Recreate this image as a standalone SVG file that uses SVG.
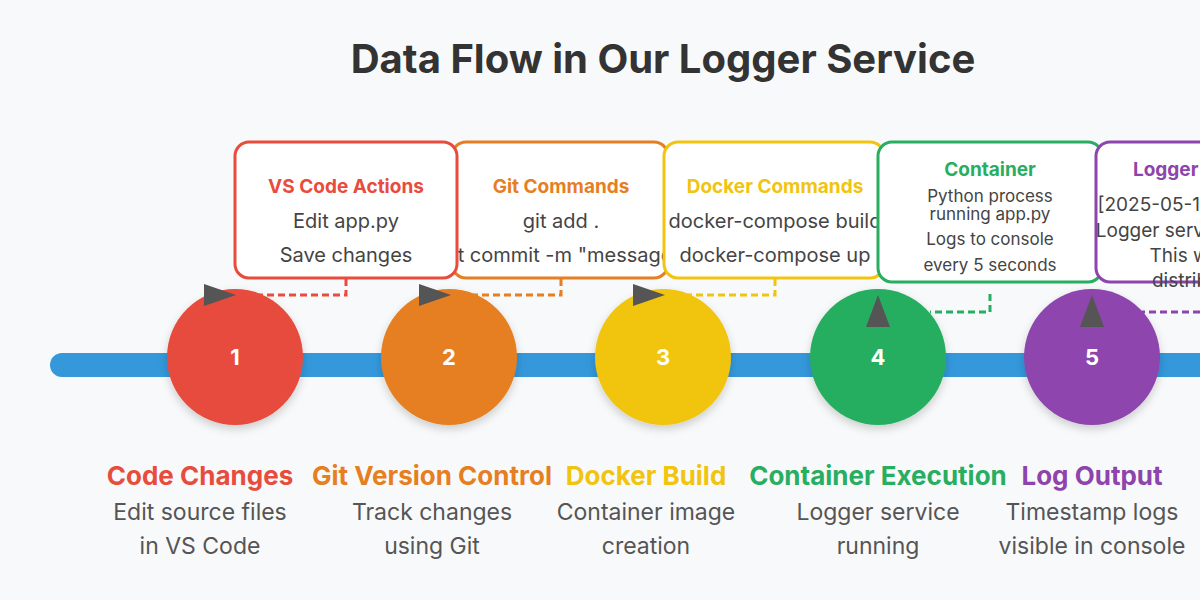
<svg xmlns="http://www.w3.org/2000/svg" width="1200" height="600" viewBox="0 0 1200 600">
<defs>
<filter id="sh" x="-20%" y="-20%" width="140%" height="150%"><feDropShadow dx="0" dy="4" stdDeviation="4" flood-opacity="0.18"/></filter>
</defs>
<style>
text{font-family:Inter,"Noto Sans","Liberation Sans",sans-serif;text-anchor:middle}
.box{fill:#fff;stroke-width:3}
.bt{font-size:19px;font-weight:bold}
.bl{font-size:20px;fill:#444}
.sl{font-size:17px;fill:#444}
.pl{font-size:19px;fill:#444}
.num{font-size:22px;font-weight:bold;fill:#fff}
.lab{font-size:26px;font-weight:bold}
.desc{font-size:23px;fill:#555}
.dash{fill:none;stroke-width:3;stroke-dasharray:7,4}
.arr{fill:#555}
</style>
<rect width="1200" height="600" fill="#f8f9fa"/>
<text x="663" y="73" style="font-size:40px;font-weight:bold;fill:#333">Data Flow in Our Logger Service</text>
<rect x="50" y="353" width="1170" height="24" rx="12" fill="#3498db"/>
<g id="box2"><rect class="box" stroke="#e67e22" x="452" y="142" width="216" height="136" rx="14"/>
<text class="bt" x="561" y="193" fill="#e67e22">Git Commands</text><text class="bl" x="561" y="228">git add .</text><text class="bl" x="561" y="262">git commit -m "message"</text></g>
<g id="box1"><rect class="box" stroke="#e74c3c" x="235" y="142" width="222" height="136" rx="14"/>
<text class="bt" x="346" y="193" fill="#e74c3c">VS Code Actions</text><text class="bl" x="346" y="228">Edit app.py</text><text class="bl" x="346" y="262">Save changes</text></g>
<g id="box3"><rect class="box" stroke="#f1c40f" x="664" y="142" width="220" height="136" rx="14"/>
<text class="bt" x="775" y="193" fill="#f1c40f">Docker Commands</text><text class="bl" x="775" y="228">docker-compose build</text><text class="bl" x="775" y="262">docker-compose up</text></g>
<g id="box4"><rect class="box" stroke="#27ae60" x="878" y="142" width="224" height="140" rx="14"/>
<text class="bt" x="990" y="176" fill="#27ae60">Container</text><text class="sl" x="990" y="202">Python process</text><text class="sl" x="990" y="220">running app.py</text><text class="sl" x="990" y="245">Logs to console</text><text class="sl" x="990" y="271">every 5 seconds</text></g>
<g id="box5"><rect class="box" stroke="#8e44ad" x="1096" y="142" width="224" height="140" rx="14"/>
<text class="bt" x="1200" y="176" fill="#8e44ad">Logger Output</text><text class="pl" x="1200" y="211">[2025-05-10 12:00:00]</text><text class="pl" x="1200" y="237">Logger service running</text><text class="pl" x="1200" y="262">This will be</text><text class="pl" x="1200" y="287">distributed</text></g>
<g id="step1"><circle cx="235" cy="357" r="68" fill="#e74c3c" filter="url(#sh)"/><text class="num" x="235" y="365">1</text>
<text class="lab" x="200" y="485" fill="#e74c3c">Code Changes</text><text class="desc" x="200" y="520">Edit source files</text><text class="desc" x="200" y="554">in VS Code</text></g>
<g id="step2"><circle cx="449" cy="357" r="68" fill="#e67e22" filter="url(#sh)"/><text class="num" x="449" y="365">2</text>
<text class="lab" x="432" y="485" fill="#e67e22">Git Version Control</text><text class="desc" x="432" y="520">Track changes</text><text class="desc" x="432" y="554">using Git</text></g>
<g id="step3"><circle cx="663" cy="357" r="68" fill="#f1c40f" filter="url(#sh)"/><text class="num" x="663" y="365">3</text>
<text class="lab" x="646" y="485" fill="#f1c40f">Docker Build</text><text class="desc" x="646" y="520">Container image</text><text class="desc" x="646" y="554">creation</text></g>
<g id="step4"><circle cx="878" cy="357" r="68" fill="#27ae60" filter="url(#sh)"/><text class="num" x="878" y="365">4</text>
<text class="lab" x="878" y="485" fill="#27ae60">Container Execution</text><text class="desc" x="878" y="520">Logger service</text><text class="desc" x="878" y="554">running</text></g>
<g id="step5"><circle cx="1092" cy="357" r="68" fill="#8e44ad" filter="url(#sh)"/><text class="num" x="1092" y="365">5</text>
<text class="lab" x="1092" y="485" fill="#8e44ad">Log Output</text><text class="desc" x="1092" y="520">Timestamp logs</text><text class="desc" x="1092" y="554">visible in console</text></g>
<g id="connectors">
<path class="dash" stroke="#e74c3c" d="M346,279 V295 H232"/>
<polygon class="arr" points="204,284 236,295 204,306"/>
<path class="dash" stroke="#e67e22" d="M561,279 V295 H447"/>
<polygon class="arr" points="419,284 451,295 419,306"/>
<path class="dash" stroke="#f1c40f" d="M775,279 V295 H661"/>
<polygon class="arr" points="633,284 665,295 633,306"/>
<path class="dash" stroke="#27ae60" d="M990,294 V312 H930"/>
<polygon class="arr" points="866,327 878,295 890,327"/>
<path class="dash" stroke="#8e44ad" d="M1200,312 H1142"/>
<polygon class="arr" points="1080,327 1092,295 1104,327"/>
</g>
</svg>
